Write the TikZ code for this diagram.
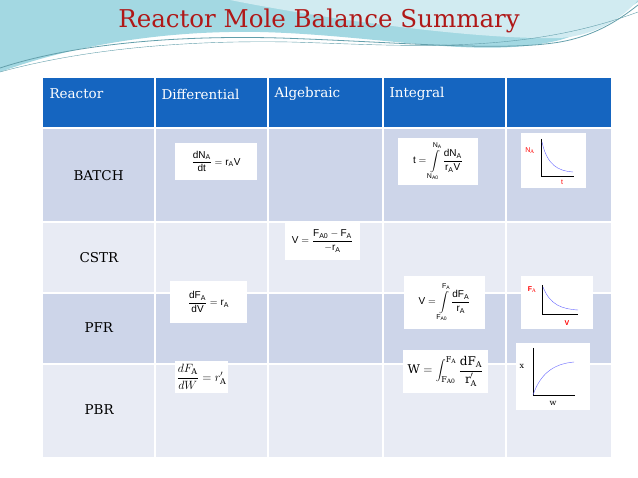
\documentclass[tikz,border=0pt]{standalone}
\usepackage{fontspec}
\setmainfont{DejaVu Serif}
\setsansfont{Liberation Sans}
\begin{document}
\begin{tikzpicture}[x=1pt,y=-1pt,
  cellt/.style={anchor=west,font=\fontsize{13.5}{15}\selectfont},
  hdr/.style={cellt,text=white},
  eq/.style={fill=white,inner sep=0pt,font=\sffamily\fontsize{10}{11}\selectfont},
  gr/.style={fill=white,inner sep=0pt}]
\definecolor{hblue}{HTML}{1565C0}
\definecolor{rowa}{HTML}{CDD5E9}
\definecolor{rowb}{HTML}{E8EBF4}
\definecolor{wave}{HTML}{7CC7D6}
\definecolor{tred}{HTML}{B01818}
\useasboundingbox (0,0) rectangle (638,478);
\fill[white] (0,0) rectangle (638,478);
% waves
\fill[wave!70] (0,0) -- (0,72) .. controls (60,50) and (150,30) .. (260,32) .. controls (380,35) and (480,60) .. (560,40) .. controls (600,28) and (625,10) .. (638,2) -- (638,0) -- cycle;
\fill[wave!35] (230,0) .. controls (330,20) and (480,40) .. (560,38) .. controls (600,35) and (625,15) .. (638,0) -- cycle;
\draw[wave!80!black,thick] (0,68) .. controls (70,45) and (170,35) .. (280,38) .. controls (400,42) and (500,52) .. (560,42) .. controls (600,35) and (625,15) .. (638,5);
\draw[wave!80!black] (0,72) .. controls (80,50) and (180,40) .. (290,42) .. controls (400,45) and (520,56) .. (638,12);
\node[text=tred,font=\fontsize{24.5}{28}\selectfont] (title) at (319,21) {Reactor Mole Balance Summary};
% table rows
\fill[hblue] (43,78) rectangle (611,128);
\fill[rowa] (43,128) rectangle (611,222);
\fill[rowb] (43,222) rectangle (611,293);
\fill[rowa] (43,293) rectangle (611,364);
\fill[rowb] (43,364) rectangle (611,457);
\foreach \x in {155,268,383,506} \draw[white,line width=1.2] (\x,78) -- (\x,457);
\foreach \y in {128,222,293,364} \draw[white,line width=1.2] (43,\y) -- (611,\y);
\node[hdr] (h1) at (46,94) {Reactor};
\node[hdr] (h2) at (158,94) {Differential};
\node[hdr] (h3) at (271,94) {Algebraic};
\node[hdr] (h4) at (386,94) {Integral};
\node[cellt] (r1) at (70,176) {BATCH};
\node[cellt] (r2) at (76,258) {CSTR};
\node[cellt] (r3) at (81,328) {PFR};
\node[cellt] (r4) at (81,410) {PBR};
% equations
\node[eq,minimum width=82,minimum height=37] (e1) at (216,161.5) {$\displaystyle\frac{\mathsf{dN_A}}{\mathsf{dt}}=\mathsf{r_A V}$};
\node[eq,minimum width=80,minimum height=47] (e2) at (438,161.5) {$\mathsf{t}=\displaystyle\int\limits_{\mathsf{N_{A0}}}^{\mathsf{N_A}}\frac{\mathsf{dN_A}}{\mathsf{r_A V}}$};
\node[eq,minimum width=75,minimum height=38] (e3) at (322.5,241) {$\mathsf{V}=\displaystyle\frac{\mathsf{F_{A0}-F_A}}{\mathsf{-r_A}}$};
\node[eq,minimum width=77,minimum height=42] (e4) at (208.5,302) {$\displaystyle\frac{\mathsf{dF_A}}{\mathsf{dV}}=\mathsf{r_A}$};
\node[eq,minimum width=81,minimum height=53] (e5) at (444.5,302.5) {$\mathsf{V}=\displaystyle\int\limits_{\mathsf{F_{A0}}}^{\mathsf{F_A}}\frac{\mathsf{dF_A}}{\mathsf{r_A}}$};
\node[eq,minimum width=53,minimum height=32,font=\fontsize{11.5}{12}\selectfont] (e6) at (201.5,377) {$\displaystyle\frac{dF_{\mathrm A}}{dW}=r'_{\mathrm A}$};
\node[eq,minimum width=85,minimum height=43,font=\fontsize{12}{13}\selectfont] (e7) at (445.5,371.5) {$\mathrm{W}=\displaystyle\int_{\mathrm{F_{A0}}}^{\mathrm{F_A}}\frac{\mathrm{dF_A}}{\mathrm{r'_A}}$};
% graphs
\node[gr,minimum width=65,minimum height=55] (g1) at (553.5,160.5) {};
\draw[thick] (541,139) -- (541,176) -- (574,176);
\draw[blue!60] (542,142) .. controls (547,165) and (558,171) .. (573,172);
\node[text=red,font=\sffamily\fontsize{7}{8}\selectfont] (g1y) at (530,151) {N$_\mathrm{A}$};
\node[text=red,font=\sffamily\fontsize{7}{8}\selectfont] (g1x) at (562,182) {t};
\node[gr,minimum width=72,minimum height=53] (g2) at (557,302.5) {};
\draw[thick] (542,285) -- (542,314) -- (578,314);
\draw[blue!60] (543,287) .. controls (550,305) and (562,309) .. (578,310);
\node[text=red,font=\sffamily\bfseries\fontsize{7}{8}\selectfont] (g2y) at (532,290) {F$_\mathrm{A}$};
\node[text=red,font=\sffamily\bfseries\fontsize{7}{8}\selectfont] (g2x) at (567,323) {V};
\node[gr,minimum width=74,minimum height=67] (g3) at (553,376.5) {};
\draw[thick] (533,348) -- (533,395) -- (575,395);
\draw[blue!60] (533,395) .. controls (540,375) and (552,364) .. (574,362);
\node[font=\fontsize{8}{9}\selectfont] (g3y) at (522,366) {x};
\node[font=\fontsize{8}{9}\selectfont] (g3x) at (553,403) {w};
\end{tikzpicture}
\end{document}
